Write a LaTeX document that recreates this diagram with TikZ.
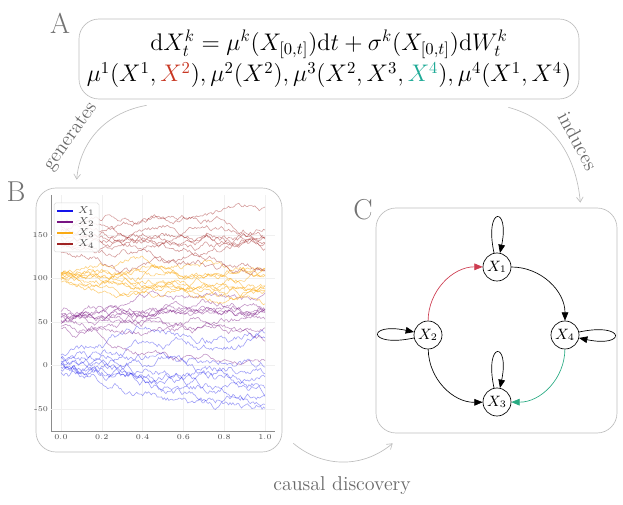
\documentclass[tikz,border=0pt]{standalone}
\usetikzlibrary{calc,arrows.meta}
\usepackage{amsmath}

\definecolor{boxgray}{RGB}{190,190,190}
\definecolor{lettergray}{RGB}{115,115,115}
\definecolor{textgray}{RGB}{105,105,105}
\definecolor{eqred}{RGB}{200,55,35}
\definecolor{eqteal}{RGB}{30,170,150}
\definecolor{edgered}{RGB}{205,60,80}
\definecolor{edgegreen}{RGB}{40,170,130}
\definecolor{walkblue}{RGB}{20,20,235}
\definecolor{walkpurple}{RGB}{120,20,130}
\definecolor{walkorange}{RGB}{250,170,20}
\definecolor{walkred}{RGB}{160,35,35}

\begin{document}
\begin{tikzpicture}[x=0.6pt,y=-0.6pt]
\tikzstyle{panel}=[draw=boxgray, rounded corners=12pt, inner sep=0pt]
\tikzstyle{letter}=[text=lettergray, font=\LARGE]
\tikzstyle{flow}=[draw=boxgray, thin, -{Straight Barb[length=3pt,width=4pt]}]
\tikzstyle{flowtext}=[text=textgray, font=\large]
\tikzstyle{var}=[draw, circle, thin, minimum size=16.8pt, inner sep=0pt, font=\small, fill=white]
\tikzstyle{edge}=[thin, -{Triangle[length=5pt,width=4pt]}]
\tikzstyle{selfloop}=[min distance=29pt, looseness=8]
\tikzstyle{walk}=[line width=0.35pt]
\tikzstyle{gridline}=[draw=black!6, line width=0.3pt]
\tikzstyle{ticklabel}=[text=black!70, font=\fontsize{4.5}{5}\selectfont, inner sep=1pt]

\useasboundingbox (0,0) rectangle (623,505);

% panels
\node (eqbox) [panel, minimum width=300pt, minimum height=48pt, align=center, font=\Large] at (329,59)
  {$\mathrm{d}X^k_t = \mu^k(X_{[0,t]})\mathrm{d}t + \sigma^k(X_{[0,t]})\mathrm{d}W^k_t$\\[1pt]
   $\mu^1(X^1,{\color{eqred}X^2}),\mu^2(X^2),\mu^3(X^2,X^3,{\color{eqteal}X^4}),\mu^4(X^1,X^4)$};
\node (plotbox) [panel, minimum width=147.6pt, minimum height=158.4pt] at (159,320) {};
\node (graphbox) [panel, minimum width=144.6pt, minimum height=135pt] at (496.5,320.5) {};

\node (labA) [letter] at (60,23) {A};
\node (labB) [letter] at (16,192) {B};
\node (labC) [letter] at (363,210) {C};

% arrows between panels
\draw [flow] ($(eqbox.south west)+(68,6)$) to[out=190, in=85] ($(plotbox.north west)+(41,-8)$);
\draw [flow] ($(eqbox.south east)+(-71,8)$) to[out=-15, in=95] ($(graphbox.north east)+(-37,-5)$);
\draw [flow] ($(plotbox.south east)+(11,-9)$) to[out=-40, in=-140] ($(graphbox.south west)+(17,10)$);
\node (gen) [flowtext, rotate=55] at (71,137) {generates};
\node (ind) [flowtext, rotate=-62] at (578,141) {induces};
\node (cd) [flowtext] at (342,486) {causal discovery};

% sample paths
\draw [black!45, line width=0.3pt] (51,195) -- (51,431) -- (275,431);
\foreach \t [count=\n from 0] in {0.0,0.2,0.4,0.6,0.8,1.0}
  \node [ticklabel] at (61+40.8*\n,437) {\t};
\foreach \v [count=\n from 0] in {-50,0,50,100,150}
  \node [ticklabel, anchor=east] at (50,409-43.5*\n) {\v};

\begin{scope}[shift={(61,365.5)}, x=122.4pt, y=0.522pt]
\clip (-0.049,-75) rectangle (1.05,196);
\foreach \t in {0,0.2,0.4,0.6,0.8,1}
  \draw [gridline] (\t,-75) -- (\t,196);
\foreach \v in {-50,0,50,100,150}
  \draw [gridline] (-0.049,\v) -- (1.05,\v);
\pgfmathsetseed{1717}
\foreach \s in {0,10,-5,3,8,-2,5,12,-8,1}
  \draw [walk, walkblue, opacity=0.4] (0,\s) \foreach \i [evaluate=\i as \v using {\vlast-0.1+3.3*rand}, remember=\v as \vlast (initially \s)] in {1,...,140} {-- (\i/140,\v)};
\foreach \s in {55,45,60,50,58,48,52,62,43,56}
  \draw [walk, walkpurple, opacity=0.45] (0,\s) \foreach \i [evaluate=\i as \v using {\vlast+2.7*rand}, remember=\v as \vlast (initially \s)] in {1,...,140} {-- (\i/140,\v)};
\foreach \s in {100,105,103,98,107,101,104,96,102,106}
  \draw [walk, walkorange, opacity=0.55] (0,\s) \foreach \i [evaluate=\i as \v using {\vlast+2.5*rand}, remember=\v as \vlast (initially \s)] in {1,...,140} {-- (\i/140,\v)};
\foreach \s in {150,140,160,135,148,130,155,145,165,138}
  \draw [walk, walkred, opacity=0.45] (0,\s) \foreach \i [evaluate=\i as \v using {\vlast+2.7*rand}, remember=\v as \vlast (initially \s)] in {1,...,140} {-- (\i/140,\v)};
\end{scope}

% legend
\draw [black!15, fill=white, fill opacity=0.85, rounded corners=1pt, line width=0.3pt] (54,203) rectangle (99,252);
\foreach \c/\k [count=\n] in {walkblue/1,walkpurple/2,walkorange/3,walkred/4} {
  \draw [\c, line width=0.8pt] (57,200+11*\n) -- (73,200+11*\n);
  \node [right, inner sep=1pt, font=\fontsize{6}{7}\selectfont, text=black!70] at (76,200+11*\n) {$X_\k$};
}

% causal graph
\node (x1) [var] at (497,267) {$X_1$};
\node (x2) [var] at (428,335) {$X_2$};
\node (x4) [var] at (565,335) {$X_4$};
\node (x3) [var] at (497,402) {$X_3$};

\draw [edge, color=edgered] (x2) to[bend left=45] (x1);
\draw [edge] (x1) to[bend left=45] (x4);
\draw [edge] (x2) to[bend right=45] (x3);
\draw [edge, color=edgegreen] (x4) to[bend left=45] (x3);

\draw [edge] (x1) to[loop, out=102, in=78, selfloop] (x1);
\draw [edge] (x3) to[loop, out=102, in=78, selfloop] (x3);
\draw [edge] (x2) to[loop, out=192, in=168, selfloop] (x2);
\draw [edge] (x4) to[loop, out=12, in=-12, selfloop] (x4);

\end{tikzpicture}
\end{document}
